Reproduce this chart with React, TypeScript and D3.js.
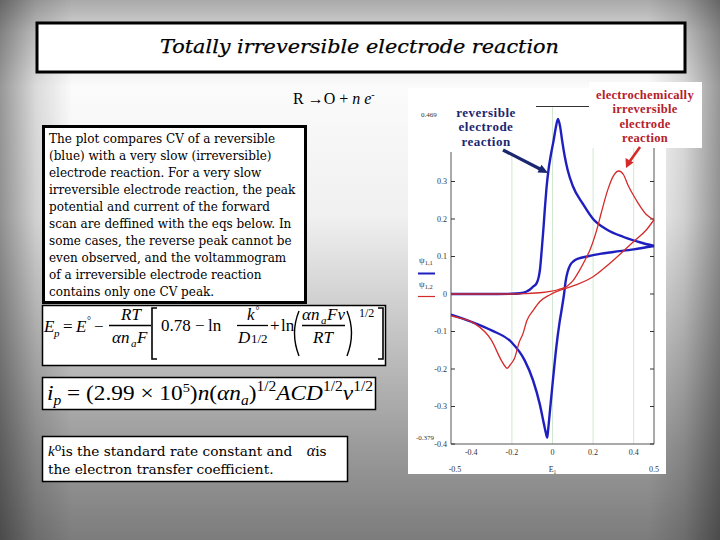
import React from 'react';
import * as d3 from 'd3';

// ---------- data ----------
const xTicks = [-0.4, -0.2, 0, 0.2, 0.4];
const xTickLabels = ['-0.4', '-0.2', '0', '0.2', '0.4'];
const yTicks = [0.3, 0.2, 0.1, 0, -0.1, -0.2, -0.3, -0.4];
const yTickLabels = ['0.3', '0.2', '0.1', '0', '-0.1', '-0.2', '-0.3', '-0.4'];
const gridX = [-0.2, 0, 0.2, 0.4];

// reversible (blue), forward scan
const blueFwdE = [-0.5, -0.3, -0.2, -0.16, -0.13, -0.111, -0.095, -0.078, -0.068, -0.062, -0.053, -0.045, -0.038, -0.03, -0.02, -0.009, 0.006, 0.015, 0.027, 0.038, 0.047, 0.06, 0.075, 0.1, 0.15, 0.2, 0.267, 0.35, 0.43, 0.5];
const blueFwdI = [0, 0, 0.0005, 0.002, 0.006, 0.012, 0.02, 0.029, 0.045, 0.064, 0.118, 0.172, 0.225, 0.28, 0.33, 0.368, 0.411, 0.44, 0.467, 0.445, 0.411, 0.368, 0.33, 0.288, 0.24, 0.2, 0.172, 0.152, 0.138, 0.128];
// reversible (blue), reverse scan
const blueRevE = [-0.5, -0.4, -0.3, -0.203, -0.137, -0.096, -0.063, -0.042, -0.032, -0.026, -0.022, -0.014, 0.002, 0.019, 0.035, 0.045, 0.057, 0.065, 0.075, 0.088, 0.105, 0.13, 0.17, 0.234, 0.3, 0.4, 0.5];
const blueRevI = [-0.055, -0.074, -0.097, -0.128, -0.177, -0.23, -0.293, -0.347, -0.372, -0.383, -0.365, -0.32, -0.23, -0.141, -0.075, -0.042, 0, 0.035, 0.06, 0.078, 0.088, 0.095, 0.1, 0.107, 0.112, 0.119, 0.128];
// irreversible (red), forward scan
const redFwdE = [-0.5, -0.2, -0.13, -0.05, -0.01, 0.03, 0.07, 0.1, 0.135, 0.16, 0.185, 0.218, 0.24, 0.273, 0.3, 0.326, 0.35, 0.372, 0.4, 0.421, 0.462, 0.5];
const redFwdI = [0, 0, 0.001, 0.004, 0.007, 0.012, 0.02, 0.035, 0.065, 0.09, 0.118, 0.171, 0.216, 0.279, 0.315, 0.328, 0.318, 0.29, 0.262, 0.243, 0.212, 0.198];
// irreversible (red), reverse scan
const redRevE = [-0.5, -0.45, -0.383, -0.301, -0.252, -0.235, -0.224, -0.21, -0.186, -0.165, -0.145, -0.127, -0.094, -0.062, -0.012, 0.053, 0.119, 0.2, 0.283, 0.4, 0.464, 0.5];
const redRevI = [-0.058, -0.065, -0.079, -0.123, -0.177, -0.192, -0.198, -0.19, -0.17, -0.13, -0.105, -0.072, -0.043, -0.02, -0.002, 0.013, 0.025, 0.046, 0.082, 0.14, 0.172, 0.198];

const bodyLines = [
  'The plot compares CV of a reversible',
  '(blue) with a very slow (irreversible)',
  'electrode reaction. For a very slow',
  'irreversible electrode reaction, the peak',
  'potential and current of the forward',
  'scan are deffined with the eqs below. In',
  'some cases, the reverse peak cannot be',
  'even observed, and the voltammogram',
  'of a irreversible electrode reaction',
  'contains only one CV peak.',
];
const revLabel = ['reversible', 'electrode', 'reaction'];
const irrLabel = ['electrochemically', 'irreversible', 'electrode', 'reaction'];

const SERIF = '"DejaVu Serif", serif';
const TIMES = '"Liberation Serif", "Times New Roman", serif';

export default function App() {
  const x = d3.scaleLinear().domain([-0.5, 0.5]).range([451, 654]);
  const y = d3.scaleLinear().domain([-0.4, 0.5]).range([444, 106.5]);
  const line = d3
    .line<[number, number]>()
    .x((d) => x(d[0]))
    .y((d) => y(d[1]))
    .curve(d3.curveMonotoneX);
  const pts = (es: number[], is: number[]) => es.map((e, i) => [e, is[i]] as [number, number]);

  const blueF = line(pts(blueFwdE, blueFwdI)) || '';
  const blueR = line(pts(blueRevE, blueRevI)) || '';
  const redF = line(pts(redFwdE, redFwdI)) || '';
  const redR = line(pts(redRevE, redRevI)) || '';

  const blue = '#1f1fc0';
  const red = '#d42a2a';

  return (
    <svg
      width={720}
      height={540}
      viewBox="0 0 720 540"
      style={{ position: 'fixed', left: 0, top: 0, display: 'block' }}
    >
      <defs>
        <linearGradient id="bgV" x1="0" y1="0" x2="0" y2="1">
          <stop offset="0" stopColor="#a9a9a9" />
          <stop offset="0.06" stopColor="#d6d6d6" />
          <stop offset="0.16" stopColor="#fbfbfb" />
          <stop offset="0.4" stopColor="#f0f0f0" />
          <stop offset="0.62" stopColor="#c4c4c4" />
          <stop offset="0.82" stopColor="#9c9c9c" />
          <stop offset="1" stopColor="#7c7c7c" />
        </linearGradient>
        <linearGradient id="bgH" x1="0" y1="0" x2="1" y2="0">
          <stop offset="0" stopColor="#000" stopOpacity="0.4" />
          <stop offset="0.05" stopColor="#000" stopOpacity="0.13" />
          <stop offset="0.1" stopColor="#000" stopOpacity="0" />
          <stop offset="0.9" stopColor="#000" stopOpacity="0" />
          <stop offset="0.95" stopColor="#000" stopOpacity="0.13" />
          <stop offset="1" stopColor="#000" stopOpacity="0.4" />
        </linearGradient>
      </defs>

      {/* background */}
      <rect x={0} y={0} width={720} height={540} fill="url(#bgV)" />
      <rect x={0} y={0} width={720} height={540} fill="url(#bgH)" />

      {/* title */}
      <rect x={37} y={23} width={648} height={49} fill="#fff" stroke="#000" strokeWidth={3} />
      <text
        x={160}
        y={53}
        fontFamily={SERIF}
        fontStyle="italic"
        fontSize={19}
        fill="#000"
        stroke="#000"
        strokeWidth={0.25}
        textLength={399}
        lengthAdjust="spacingAndGlyphs"
      >
        Totally irreversible electrode reaction
      </text>

      {/* reaction */}
      <text x={293} y={104} fontFamily={TIMES} fontSize={16} fill="#000">
        R <tspan>→</tspan>O + <tspan fontStyle="italic">n </tspan>
        <tspan fontStyle="italic">e</tspan>
        <tspan fontSize={10} dy={-6}>-</tspan>
      </text>

      {/* body text box */}
      <rect x={43.5} y={126.5} width={262} height={176} fill="#fff" stroke="#000" strokeWidth={3} />
      {bodyLines.map((t, i) => (
        <text key={i} x={49} y={142.5 + i * 17} fontFamily={SERIF} fontSize={12} fill="#000">
          {t}
        </text>
      ))}

      {/* equation 1 */}
      <rect x={42.5} y={305.5} width={343} height={60} fill="#fff" stroke="#000" strokeWidth={1.5} />
      <g fontFamily={TIMES} fontSize={17} fill="#000">
        <text x={44} y={332} fontStyle="italic">E</text>
        <text x={54} y={337} fontStyle="italic" fontSize={11}>p</text>
        <text x={63} y={332}>=</text>
        <text x={76} y={332} fontStyle="italic">E</text>
        <text x={87} y={324} fontSize={10}>°</text>
        <text x={94} y={332}>−</text>
        <text x={131} y={320} textAnchor="middle" fontStyle="italic">RT</text>
        <line x1={109} x2={151} y1={325.5} y2={325.5} stroke="#000" strokeWidth={1.3} />
        <text x={112} y={343} fontStyle="italic">αn</text>
        <text x={131} y={347} fontStyle="italic" fontSize={11}>a</text>
        <text x={137} y={343} fontStyle="italic">F</text>
        <path d="M157 308 H152 V359 H157" fill="none" stroke="#000" strokeWidth={1.6} />
        <text x={161} y={331}>0.78</text>
        <text x={195} y={331}>−</text>
        <text x={208} y={331}>ln</text>
        <text x={247} y={320} fontStyle="italic">k</text>
        <text x={255.5} y={314} fontSize={10}>°</text>
        <line x1={237} x2={268} y1={325.5} y2={325.5} stroke="#000" strokeWidth={1.3} />
        <text x={238} y={343} fontStyle="italic">D</text>
        <text x={251} y={343} fontSize={13}>1/2</text>
        <text x={270} y={331}>+</text>
        <text x={281} y={331}>ln</text>
        <path d="M299 311 Q290 333 299 356" fill="none" stroke="#000" strokeWidth={1.4} />
        <text x={302} y={320} fontStyle="italic">αn</text>
        <text x={321} y={324} fontStyle="italic" fontSize={11}>a</text>
        <text x={327} y={320} fontStyle="italic">Fv</text>
        <line x1={302} x2={345} y1={325.5} y2={325.5} stroke="#000" strokeWidth={1.3} />
        <text x={323} y={343} textAnchor="middle" fontStyle="italic">RT</text>
        <path d="M347 311 Q356 333 347 356" fill="none" stroke="#000" strokeWidth={1.4} />
        <text x={359} y={317} fontSize={12}>1/2</text>
        <path d="M378 308 H383 V359 H378" fill="none" stroke="#000" strokeWidth={1.6} />
      </g>

      {/* equation 2 */}
      <rect x={42.5} y={377.5} width={333} height={32} fill="#fff" stroke="#000" strokeWidth={1.5} />
      <text
        x={47}
        y={400}
        fontFamily={TIMES}
        fontSize={21}
        fill="#000"
        textLength={326}
        lengthAdjust="spacingAndGlyphs"
      >
        <tspan fontStyle="italic">i</tspan>
        <tspan fontStyle="italic" fontSize={14} dy={5}>p</tspan>
        <tspan dy={-5}> = (2.99 × 10</tspan>
        <tspan fontSize={13} dy={-8}>5</tspan>
        <tspan dy={8}>)</tspan>
        <tspan fontStyle="italic">n</tspan>
        <tspan>(</tspan>
        <tspan fontStyle="italic">αn</tspan>
        <tspan fontStyle="italic" fontSize={14} dy={5}>a</tspan>
        <tspan dy={-5}>)</tspan>
        <tspan fontSize={14} dy={-9}>1/2</tspan>
        <tspan fontStyle="italic" dy={9}>ACD</tspan>
        <tspan fontSize={14} dy={-9}>1/2</tspan>
        <tspan fontStyle="italic" dy={9}>v</tspan>
        <tspan fontSize={14} dy={-9}>1/2</tspan>
      </text>

      {/* bottom note */}
      <rect x={42.5} y={436.5} width={305} height={45} fill="#fff" stroke="#000" strokeWidth={1.5} />
      <text x={48} y={456} fontFamily={SERIF} fontSize={13.7} fill="#000">
        <tspan fontFamily={TIMES} fontStyle="italic" fontSize={15}>k</tspan>
        <tspan fontSize={11} dy={-5}>o</tspan>
        <tspan dy={5}>is the standard rate constant and </tspan>
        <tspan fontFamily={TIMES} fontStyle="italic" fontSize={16} dx={10}>α</tspan>
        <tspan>is</tspan>
      </text>
      <text x={48} y={474} fontFamily={SERIF} fontSize={13.7} fill="#000">
        the electron transfer coefficient.
      </text>

      {/* chart panel */}
      <rect x={408} y={88} width={258} height={386} fill="#fff" />
      {gridX.map((g) => (
        <line key={g} x1={x(g)} x2={x(g)} y1={y(0.5)} y2={y(-0.4)} stroke="#cfe8cf" strokeWidth={1} />
      ))}
      {/* frame */}
      <line x1={x(-0.5)} x2={x(0.5)} y1={y(0.5)} y2={y(0.5)} stroke="#333" strokeWidth={1} />
      <line x1={x(-0.5)} x2={x(-0.5)} y1={y(0.5)} y2={y(-0.4)} stroke="#555" strokeWidth={1} />
      <line x1={x(0.5)} x2={x(0.5)} y1={y(0.5)} y2={y(-0.4)} stroke="#555" strokeWidth={1} />
      <line x1={x(-0.5)} x2={x(0.5)} y1={y(-0.4)} y2={y(-0.4)} stroke="#555" strokeWidth={1} />
      {yTicks.map((t) => (
        <g key={t}>
          <line x1={x(-0.5)} x2={x(-0.5) + 4} y1={y(t)} y2={y(t)} stroke="#333" strokeWidth={1} />
          <line x1={x(0.5)} x2={x(0.5) - 4} y1={y(t)} y2={y(t)} stroke="#333" strokeWidth={1} />
        </g>
      ))}
      {yTicks.map((t, i) => (
        <text key={t} x={447} y={y(t) + 2.5} textAnchor="end" fontFamily={TIMES} fontSize={8} fill="#333">
          {yTickLabels[i]}
        </text>
      ))}
      {xTicks.map((t, i) => (
        <text key={t} x={x(t)} y={455} textAnchor="middle" fontFamily={TIMES} fontSize={8} fill="#333">
          {xTickLabels[i]}
        </text>
      ))}
      <text x={421} y={117} fontFamily={TIMES} fontSize={7} fill="#333">0.469</text>
      <text x={434} y={440} textAnchor="end" fontFamily={TIMES} fontSize={7} fill="#333">-0.379</text>
      <text x={x(-0.5) + 4} y={472} textAnchor="middle" fontFamily={TIMES} fontSize={8} fill="#333">-0.5</text>
      <text x={x(0)} y={472} textAnchor="middle" fontFamily={TIMES} fontSize={8} fill="#333">
        E<tspan fontSize={5.5} dy={2}>1</tspan>
      </text>
      <text x={x(0.5)} y={472} textAnchor="middle" fontFamily={TIMES} fontSize={8} fill="#333">0.5</text>

      {/* legend */}
      <text x={419} y={263} fontFamily={TIMES} fontSize={9} fill="#333">
        ψ<tspan fontSize={6.5} dy={2}>1,1</tspan>
      </text>
      <line x1={418} x2={435} y1={273.5} y2={273.5} stroke={blue} strokeWidth={2} />
      <text x={419} y={287} fontFamily={TIMES} fontSize={9} fill="#333">
        ψ<tspan fontSize={6.5} dy={2}>1,2</tspan>
      </text>
      <line x1={418} x2={435} y1={296.5} y2={296.5} stroke={red} strokeWidth={1.2} />

      {/* curves */}
      <path d={blueR} fill="none" stroke={blue} strokeWidth={2.4} strokeLinejoin="round" />
      <path d={blueF} fill="none" stroke={blue} strokeWidth={2.4} strokeLinejoin="round" />
      <path d={redR} fill="none" stroke={red} strokeWidth={1.3} strokeLinejoin="round" />
      <path d={redF} fill="none" stroke={red} strokeWidth={1.3} strokeLinejoin="round" />

      {/* annotation: reversible */}
      <rect x={445} y={96} width={91} height={56} fill="#fff" />
      <g fontFamily={TIMES} fontWeight="bold" fontSize={13} fill="#1b2670" textAnchor="middle">
        {revLabel.map((t, i) => (
          <text key={t} x={486} y={117 + i * 14.3} letterSpacing={0.5}>
            {t}
          </text>
        ))}
      </g>
      <line x1={503} y1={150} x2={541} y2={169.5} stroke="#1b2670" strokeWidth={3.2} />
      <polygon points="548,173 537.5,172.5 541.5,164.8" fill="#1b2670" />

      {/* annotation: irreversible */}
      <rect x={589} y={82} width={113} height={66} fill="#fff" />
      <g fontFamily={TIMES} fontWeight="bold" fontSize={12.5} fill="#b5202a" textAnchor="middle">
        {irrLabel.map((t, i) => (
          <text key={t} x={645} y={99 + i * 14.3} letterSpacing={0.3}>
            {t}
          </text>
        ))}
      </g>
      <line x1={640} y1={147} x2={630} y2={161} stroke="#d42a2a" strokeWidth={2.6} />
      <polygon points="626,168 625.5,158 633.5,162.5" fill="#d42a2a" />
    </svg>
  );
}
